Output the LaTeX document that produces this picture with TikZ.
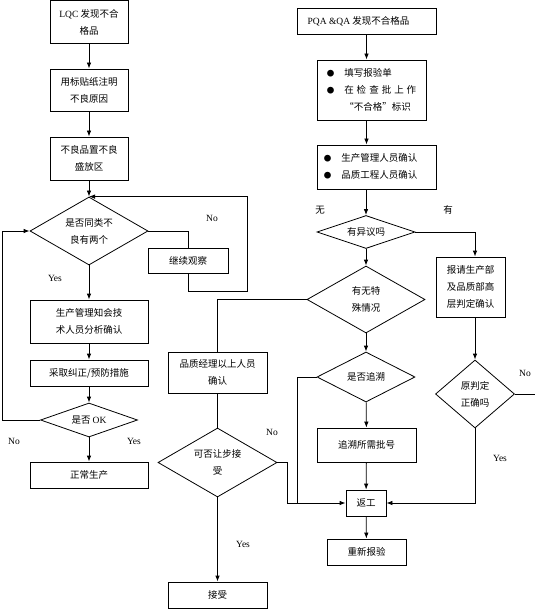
\documentclass[tikz,border=0pt]{standalone}
\usepackage{fontspec}
\setmainfont{Noto Sans CJK SC}
\newfontfamily\lt{Liberation Serif}
\usetikzlibrary{shapes.geometric,arrows.meta}
\newcommand{\bul}{{\fontsize{7.5pt}{7.5pt}\selectfont ●}}
\begin{document}
\begin{tikzpicture}[x=1pt,y=-1pt,
  every node/.style={font=\fontsize{9.5pt}{17pt}\selectfont},
  box/.style={draw, rectangle, inner sep=0pt, align=center, line width=0.8pt},
  dia/.style={draw, diamond, inner sep=0pt, align=center, line width=0.8pt},
  arr/.style={line width=0.8pt, -{Latex[length=6pt,width=4.5pt]}},
  ln/.style={line width=0.8pt},
  lab/.style={font=\lt\fontsize{9.5pt}{11pt}\selectfont, inner sep=0pt},
  clab/.style={font=\fontsize{9.5pt}{11pt}\selectfont, inner sep=0pt}]
\useasboundingbox (0,0) rectangle (553,609);
% ---------- left column ----------
\node[box, minimum width=78pt, minimum height=43pt] (b1) at (89,22) {{\lt LQC} 发现不合\\格品};
\node[box, minimum width=78pt, minimum height=42pt] (b2) at (89,90) {用标贴纸注明\\不良原因};
\node[box, minimum width=78pt, minimum height=43pt] (b3) at (89,158.5) {不良品置不良\\盛放区};
\node[dia, shape aspect=1.74, minimum width=118pt, minimum height=68pt] (d1) at (89,231) {是否同类不\\良有两个};
\node[box, minimum width=80pt, minimum height=25pt] (k) at (188,260.5) {继续观察};
\node[box, minimum width=118pt, minimum height=43pt] (p) at (89,321.5) {生产管理知会技\\术人员分析确认};
\node[box, minimum width=118pt, minimum height=26pt] (q) at (89,373) {采取纠正/预防措施};
\node[dia, shape aspect=2.85, minimum width=97pt, minimum height=34pt] (d2) at (89,420) {是否 {\lt OK}};
\node[box, minimum width=118pt, minimum height=26pt] (r) at (89,475) {正常生产};

\draw[arr] (b1) -- (b2);
\draw[arr] (b2) -- (b3);
\draw[arr] (b3) -- (d1);
\draw[ln] (d1.east) -| (k.north);
\coordinate (c1) at (247,291);
\draw[arr] (k.south) |- (c1) |- (d1.north);
\draw[arr] (d1) -- (p);
\draw[arr] (p) -- (q);
\draw[arr] (q) -- (d2);
\coordinate (c2) at (2,420);
\draw[arr] (d2.west) -- (c2) |- (d1.west);
\draw[arr] (d2) -- (r);

\node[lab] (l1) at (212,218) {No};
\node[lab] (l2) at (55,278) {Yes};
\node[lab] (l3) at (14,441) {No};
\node[lab] (l4) at (134,441) {Yes};

% ---------- right column ----------
\node[box, minimum width=139pt, minimum height=26pt] (A) at (366.5,21) {{\lt PQA \&QA} 发现不合格品\hspace{16pt}};
\node[box, minimum width=109pt, minimum height=60pt] (B) at (371.5,90)
  {\begin{tabular}{@{}l@{\hspace{10pt}}l@{}}\bul&填写报验单\\\bul&在\hspace{3pt}检\hspace{3pt}查\hspace{3pt}批\hspace{3pt}上\hspace{3pt}作\\&“不合格”标识\end{tabular}};
\node[box, minimum width=119pt, minimum height=44pt] (C) at (376.5,167)
  {\begin{tabular}{@{}l@{\hspace{10pt}}l@{}}\bul&生产管理人员确认\\\bul&品质工程人员确认\end{tabular}\hspace{12pt}};
\node[dia, shape aspect=3, minimum width=98pt, minimum height=33pt] (D) at (366,232) {有异议吗};
\node[box, minimum width=69pt, minimum height=60pt] (E) at (470.5,287) {报请生产部\\及品质部高\\层判定确认};
\node[dia, shape aspect=1.16, minimum width=79pt, minimum height=68pt] (F) at (475,394) {原判定\\正确吗};
\node[dia, shape aspect=1.76, minimum width=118pt, minimum height=67pt] (H) at (366,299.5) {有无特\\殊情况};
\node[box, minimum width=99pt, minimum height=41pt] (I) at (217.5,372.5) {品质经理以上人员\\确认};
\node[dia, shape aspect=1.72, minimum width=119pt, minimum height=69pt] (J) at (217.5,462.5) {可否让步接\\受};
\node[box, minimum width=99pt, minimum height=26pt] (K) at (217.5,595) {接受};
\node[dia, shape aspect=2, minimum width=98pt, minimum height=50pt] (L) at (366,377) {是否追溯};
\node[box, minimum width=99pt, minimum height=34pt] (M) at (366.5,445) {追溯所需批号};
\node[box, minimum width=40pt, minimum height=26pt] (G) at (366,503) {返工};
\node[box, minimum width=79pt, minimum height=26pt] (N) at (366.5,552) {重新报验};

\draw[arr] (A.south) -- (A.south |- B.north);
\draw[arr] (A.south |- B.south) -- (A.south |- C.north);
\draw[arr] (D.north |- C.south) -- (D.north);
\draw[arr] (D.east) -| (F.north |- E.north);
\draw[arr] (F.north |- E.south) -- (F.north);
\coordinate (c3) at (535,394);
\draw[ln] (F.east) -- (c3);
\draw[arr] (F.south) |- (G.east);
\draw[arr] (D) -- (H);
\draw[ln] (H.west) -| (I.north);
\draw[ln] (I) -- (J);
\coordinate (c4) at (287,462.5);
\draw[arr] (J.east) -- (c4) |- (G.west);
\draw[arr] (J) -- (K);
\draw[arr] (H) -- (L);
\coordinate (c5) at (297,503);
\draw[ln] (L.west) -| (c5);
\draw[arr] (L) -- (M);
\draw[arr] (M) -- (G);
\draw[arr] (G) -- (N);

\node[clab] (l5) at (320,210) {无};
\node[clab] (l6) at (448,210) {有};
\node[lab] (l7) at (525,373) {No};
\node[lab] (l8) at (500,458) {Yes};
\node[lab] (l9) at (272,432) {No};
\node[lab] (l10) at (243,544) {Yes};
\end{tikzpicture}
\end{document}
